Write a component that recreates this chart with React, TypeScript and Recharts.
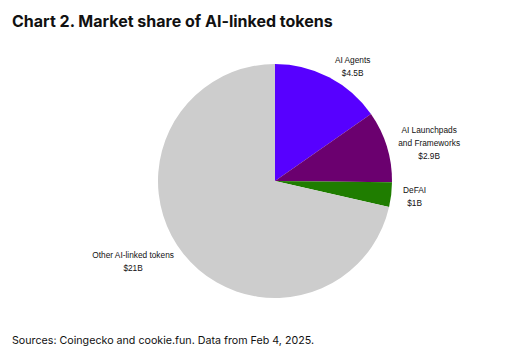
import { PieChart, Pie, Cell } from 'recharts';

const names = ['AI Agents', 'AI Launchpads\nand Frameworks', 'DeFAI', 'Other AI-linked tokens'];
const values = [4.5, 2.9, 1, 21];
const colors = ['#5700ff', '#6b006f', '#1f7d00', '#cdcdcd'];

const data = names.map((name, i) => ({ name, value: values[i] }));

const LABEL_FONT = '8.3px "Liberation Sans", Arial, sans-serif';
const RAD = Math.PI / 180;

function textWidth(s: string) {
  const c = document.createElement('canvas').getContext('2d');
  if (!c) return s.length * 4;
  c.font = LABEL_FONT;
  return c.measureText(s).width;
}

function renderLabel(props: any) {
  const { cx, cy, midAngle, outerRadius, index } = props;
  const lines = [...names[index].split('\n'), '$' + values[index] + 'B'];
  const r = outerRadius + 12;
  const cos = Math.cos(-midAngle * RAD);
  const sin = Math.sin(-midAngle * RAD);
  const w = Math.max(...lines.map(textWidth));
  const x = cx + r * cos + (cos >= 0 ? w / 2 : -w / 2);
  const y = cy + r * sin;
  const lh = 13;
  const top = y - ((lines.length - 1) * lh) / 2;
  return (
    <text
      key={index}
      x={x}
      y={top}
      textAnchor="middle"
      dominantBaseline="central"
      fill="#111"
      style={{ font: LABEL_FONT }}
    >
      {lines.map((l, i) => (
        <tspan key={i} x={x} y={top + i * lh}>
          {l}
        </tspan>
      ))}
    </text>
  );
}

export default function App() {
  return (
    <div style={{ position: 'absolute', left: 0, top: 0, width: 532, height: 358, background: '#fff' }}>
      <div
        style={{
          position: 'absolute',
          left: 12,
          top: 10.5,
          fontFamily: 'Inter, sans-serif',
          fontWeight: 700,
          fontSize: 16,
          color: '#111',
          whiteSpace: 'nowrap',
        }}
      >
        Chart 2. Market share of AI-linked tokens
      </div>
      <div style={{ position: 'absolute', left: 0, top: 0 }}>
        <PieChart width={532} height={358} margin={{ top: 0, right: 0, bottom: 0, left: 0 }}>
          <Pie
            data={data}
            dataKey="value"
            nameKey="name"
            cx={275}
            cy={181}
            outerRadius={117}
            startAngle={90}
            endAngle={-270}
            stroke="none"
            label={renderLabel}
            labelLine={false}
            isAnimationActive={false}
          >
            {data.map((d, i) => (
              <Cell key={d.name} fill={colors[i]} />
            ))}
          </Pie>
        </PieChart>
      </div>
      <div
        style={{
          position: 'absolute',
          left: 12,
          top: 333.6,
          fontFamily: 'Inter, sans-serif',
          fontSize: 10.7,
          color: '#111',
          whiteSpace: 'nowrap',
        }}
      >
        Sources: Coingecko and cookie.fun. Data from Feb 4, 2025.
      </div>
    </div>
  );
}
